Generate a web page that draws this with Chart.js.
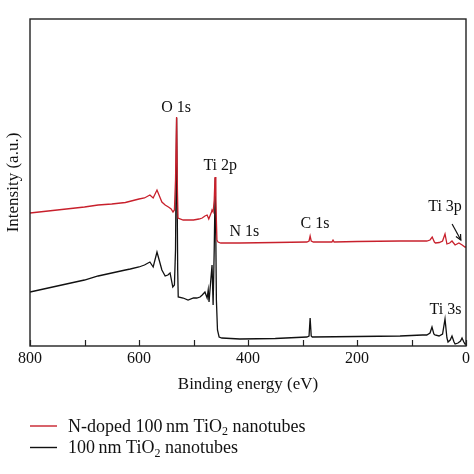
<!DOCTYPE html>
<html>
<head>
<meta charset="utf-8">
<script src="https://cdn.jsdelivr.net/npm/chart.js@4"></script>
<style>
html,body{margin:0;padding:0;background:#fff;}
canvas{display:block;}
</style>
</head>
<body>
<canvas id="c" width="474" height="474"></canvas>
<script>
// Binding energy (eV) and intensity (a.u.)
const redE = [800,775,750,725,700,675,650,625,600,590,580,574,567,558,552,546,541,537.6,535,533,531,529.5,528.4,519,510,500,490,484,479,475,472,467,466,464,462,460.5,459,457,455,450,415,350,292,288,286,284,280,246,244,242,200,121,72,66,62,58,56,49,43,38.5,35,30,25.7,20,13,7,2,0];
const redI = [133,134.5,136,137.5,139,141,142,143.5,147,148,151,148,156,144,141,139,137,134,136,166,229,156,128,126,126,126,127,128,130,131,127,134,136,134,146,169,146,106,104,103,103,103.5,104,105,110,105,104,104,106,104,104.5,105,105,106,109,104,103,103.5,105,112,102,103,105,101,103,101,99,99];
const blackE = [800,775,750,725,700,675,650,625,616,600,590,580,574,567,562,558,552,547,543,538,535,533,531,529,528,519,510,500,494,488,484,479,475,473,471.5,469,466,464,462,460,458,456,453,448,415,350,292,288,286,284,282,200,121,80,72,66,62.4,59,57,49.5,43,38.5,35,33,29,25.7,22,20,14.7,10,7.3,4,1.8,0];
const blackI = [54,57,60,63,66,70,73,76,77,79,81,84,79,94,84,76,70,71,73,59,61,96,228,76,49,48,46,48,48,49,51,54,48,56,44,61,81,41,96,168,46,16,9,8,7,7.5,9,10,28,10,9,9.5,10,11,11,13,19,12,11,10,12,27,8,4,6,10,4,2,3,5,8,4,2,2];

const xTickValues = [800,600,400,200,0];
const minorTickValues = [800,700,600,500,400,300,200,100,0];

const seriesNames = ['N-doped 100\u2009nm TiO', '100\u2009nm TiO'];
const seriesTail = [' nanotubes', ' nanotubes'];
const seriesColors = ['#c8202c', '#111111'];

const peakLabels = ['O 1s','Ti 2p','N 1s','C 1s','Ti 3p','Ti 3s'];
const peakLabelE = [532,451,406.5,277,38.5,37.5];
const peakLabelI = [238,180,114,122,139.5,36.5];
const arrowFromE = 25.5, arrowFromI = 122, arrowToE = 9.5, arrowToI = 106;

const SERIF = "'Liberation Serif','Times New Roman',serif";

function pts(E, I){ return E.map((e,i)=>({x:e, y:I[i]})); }

const decor = {
  id:'decor',
  afterDatasetsDraw(chart){
    const {ctx, chartArea:a, scales:{x, y}} = chart;
    ctx.save();
    // frame
    ctx.strokeStyle = '#222';
    ctx.lineWidth = 1.4;
    ctx.strokeRect(a.left, a.top, a.right - a.left, a.bottom - a.top);
    // inward ticks
    ctx.lineWidth = 1.2;
    minorTickValues.forEach(v=>{
      const px = Math.round(x.getPixelForValue(v)) + 0.5;
      ctx.beginPath(); ctx.moveTo(px, a.bottom); ctx.lineTo(px, a.bottom - 6); ctx.stroke();
    });
    // peak labels
    ctx.fillStyle = '#111';
    ctx.font = '16px ' + SERIF;
    ctx.textAlign = 'center';
    ctx.textBaseline = 'middle';
    peakLabels.forEach((t,i)=>{
      ctx.fillText(t, x.getPixelForValue(peakLabelE[i]), y.getPixelForValue(peakLabelI[i]));
    });
    // arrow
    const x1 = x.getPixelForValue(arrowFromE), y1 = y.getPixelForValue(arrowFromI);
    const x2 = x.getPixelForValue(arrowToE), y2 = y.getPixelForValue(arrowToI);
    ctx.strokeStyle = '#111'; ctx.lineWidth = 1.2;
    ctx.beginPath(); ctx.moveTo(x1,y1); ctx.lineTo(x2,y2); ctx.stroke();
    const ang = Math.atan2(y2-y1, x2-x1), hl = 6;
    ctx.beginPath();
    ctx.moveTo(x2 - hl*Math.cos(ang-0.45), y2 - hl*Math.sin(ang-0.45));
    ctx.lineTo(x2, y2);
    ctx.lineTo(x2 - hl*Math.cos(ang+0.45), y2 - hl*Math.sin(ang+0.45));
    ctx.stroke();
    // legend
    const rows = [426, 447.5];
    rows.forEach((ry,i)=>{
      ctx.strokeStyle = seriesColors[i]; ctx.lineWidth = 1.4;
      ctx.beginPath(); ctx.moveTo(30, ry); ctx.lineTo(57, ry); ctx.stroke();
      ctx.fillStyle = '#111';
      ctx.textAlign = 'left'; ctx.textBaseline = 'alphabetic';
      ctx.font = '18px ' + SERIF;
      let tx = 68;
      const base = ry + 5.5;
      ctx.fillText(seriesNames[i], tx, base);
      tx += ctx.measureText(seriesNames[i]).width;
      ctx.font = '12px ' + SERIF;
      ctx.fillText('2', tx, base + 3.5);
      tx += ctx.measureText('2').width;
      ctx.font = '18px ' + SERIF;
      ctx.fillText(seriesTail[i], tx, base);
    });
    ctx.restore();
  }
};

new Chart(document.getElementById('c'), {
  type:'line',
  data:{
    datasets:[
      {label:'N-doped 100 nm TiO2 nanotubes', data:pts(redE, redI), borderColor:seriesColors[0], borderWidth:1.3, pointRadius:0, tension:0, fill:false},
      {label:'100 nm TiO2 nanotubes', data:pts(blackE, blackI), borderColor:seriesColors[1], borderWidth:1.3, pointRadius:0, tension:0, fill:false}
    ]
  },
  options:{
    responsive:false,
    animation:false,
    events:[],
    layout:{padding:{left:0, top:19, right:8, bottom:75}},
    plugins:{legend:{display:false}, tooltip:{enabled:false}},
    scales:{
      x:{
        type:'linear', min:0, max:800, reverse:true,
        afterBuildTicks(s){ s.ticks = xTickValues.map(v=>({value:v})); },
        afterFit(s){ s.height = 53; },
        grid:{display:false, drawTicks:false},
        border:{display:false},
        ticks:{padding:3, color:'#111', font:{family:SERIF, size:16}, maxRotation:0, autoSkip:false},
        title:{display:true, text:'Binding energy (eV)', color:'#111', font:{family:SERIF, size:17}, padding:{top:4, bottom:4}}
      },
      y:{
        type:'linear', min:0, max:327,
        afterFit(s){ s.width = 30; },
        grid:{display:false, drawTicks:false},
        border:{display:false},
        ticks:{display:false},
        title:{display:true, text:'Intensity (a.u.)', color:'#111', font:{family:SERIF, size:17}, padding:{top:3, bottom:3}}
      }
    }
  },
  plugins:[decor]
});
</script>
</body>
</html>
